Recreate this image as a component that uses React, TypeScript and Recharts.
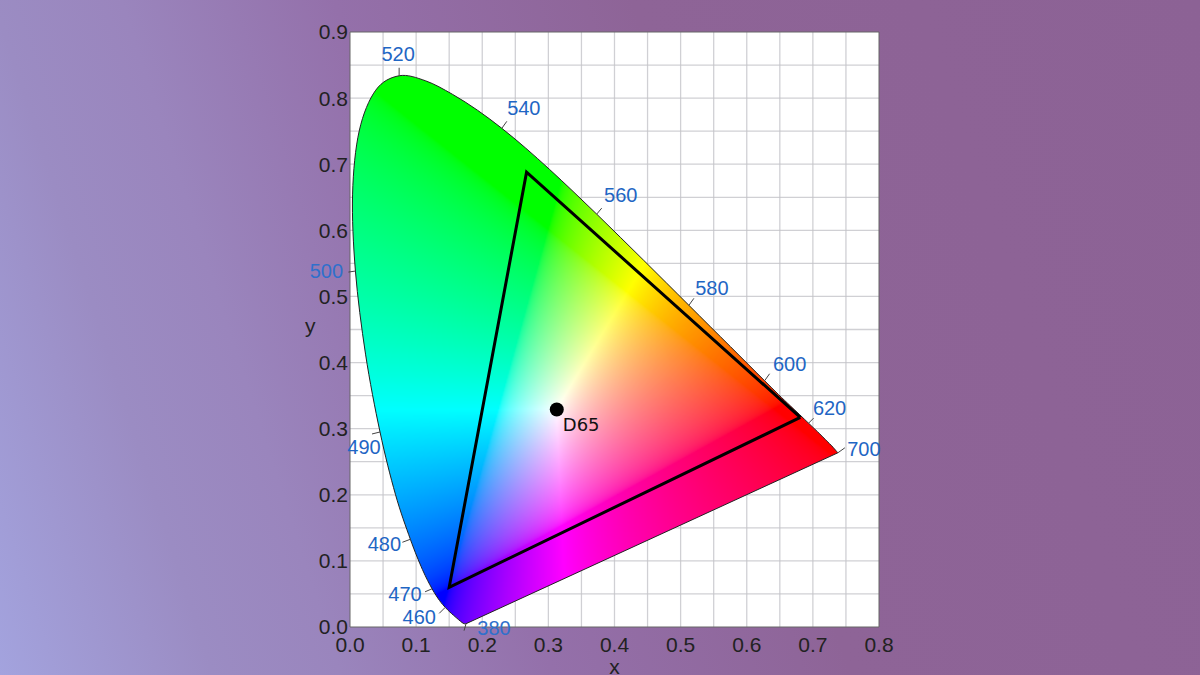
import { useMemo } from 'react';
import {
  ComposedChart, Scatter, XAxis, YAxis, CartesianGrid, ReferenceArea, Label,
} from 'recharts';

// spectral locus, wavelength in nm with its chromaticity
const LOCUS_NM = [380, 400, 420, 430, 440, 450, 455, 460, 465, 470, 475, 480, 485, 490, 495, 500, 505, 510, 515, 520, 525, 530, 535, 540, 545, 550, 555, 560, 565, 570, 575, 580, 585, 590, 595, 600, 605, 610, 620, 630, 640, 650, 680, 700];
const LOCUS_X = [0.1755, 0.1745, 0.1722, 0.1693, 0.1644, 0.1566, 0.151, 0.144, 0.1355, 0.1241, 0.1096, 0.0913, 0.0687, 0.0454, 0.0235, 0.0082, 0.0039, 0.0139, 0.0389, 0.0743, 0.1142, 0.1547, 0.1929, 0.2296, 0.2658, 0.3016, 0.3373, 0.3731, 0.4087, 0.4441, 0.4788, 0.5125, 0.5448, 0.5752, 0.6029, 0.627, 0.6482, 0.6665, 0.6935, 0.7105, 0.7215, 0.7285, 0.736, 0.7378];
const LOCUS_Y = [0.005, 0.0048, 0.0051, 0.0069, 0.0109, 0.0177, 0.0227, 0.0297, 0.0399, 0.0578, 0.0868, 0.1327, 0.2007, 0.295, 0.4127, 0.5384, 0.6548, 0.7502, 0.812, 0.8338, 0.8262, 0.8059, 0.7816, 0.7543, 0.7243, 0.6923, 0.6589, 0.6245, 0.5896, 0.5547, 0.5202, 0.4866, 0.4544, 0.4242, 0.3965, 0.3725, 0.3514, 0.334, 0.3083, 0.292, 0.2809, 0.274, 0.2655, 0.2635];

const LABELLED_NM = [380, 460, 470, 480, 490, 500, 520, 540, 560, 580, 600, 620, 700];

const GAMUT_X = [0.681, 0.267, 0.15];
const GAMUT_Y = [0.317, 0.688, 0.06];

const WHITE_POINT = [{ x: 0.3127, y: 0.329, name: 'D65' }];

const X_TICKS = [0, 0.1, 0.2, 0.3, 0.4, 0.5, 0.6, 0.7, 0.8];
const Y_TICKS = [0, 0.1, 0.2, 0.3, 0.4, 0.5, 0.6, 0.7, 0.8, 0.9];
const X_GRID = [0.05, 0.1, 0.15, 0.2, 0.25, 0.3, 0.35, 0.4, 0.45, 0.5, 0.55, 0.6, 0.65, 0.7, 0.75];
const Y_GRID = [0.05, 0.1, 0.15, 0.2, 0.25, 0.3, 0.35, 0.4, 0.45, 0.5, 0.55, 0.6, 0.65, 0.7, 0.75, 0.8, 0.85];

// tick end and text centre relative to the locus point, in px
const LABEL_STYLE: Record<number, { tx: number; ty: number; lx: number; ly: number; color?: string }> = {
  380: { tx: -2, ty: 7, lx: 28, ly: 4, color: '#2f70cc' },
  460: { tx: -6, ty: 6, lx: -26, ly: 10 },
  470: { tx: -7, ty: 3, lx: -27, ly: 5 },
  480: { tx: -8, ty: 3, lx: -26, ly: 5 },
  490: { tx: -8, ty: 2, lx: -16, ly: 15 },
  500: { tx: -7, ty: 1, lx: -29, ly: 0, color: '#2f70cc' },
  520: { tx: 0, ty: -8, lx: -1, ly: -22 },
  540: { tx: 5, ty: -7, lx: 22, ly: -20 },
  560: { tx: 5, ty: -6, lx: 24, ly: -19 },
  580: { tx: 5, ty: -7, lx: 23, ly: -17 },
  600: { tx: 5, ty: -7, lx: 25, ly: -17 },
  620: { tx: 5, ty: -5, lx: 21, ly: -15 },
  700: { tx: 7, ty: -5, lx: 26, ly: -4 },
};

const TICK_FONT = '"Liberation Sans", Arial, sans-serif';
const DEJAVU = '"DejaVu Sans", sans-serif';
const LABEL_BLUE = '#1f66c4';

const locusRows = LOCUS_X.map((x, i) => ({ x, y: LOCUS_Y[i] }));
const gamutLoop = [...GAMUT_X, GAMUT_X[0]].map((x, i) => ({ x, y: [...GAMUT_Y, GAMUT_Y[0]][i] }));
const wavelengthRows = LABELLED_NM.map((nm) => {
  const i = LOCUS_NM.indexOf(nm);
  return { x: LOCUS_X[i], y: LOCUS_Y[i], nm };
});

const gamma = (v: number) => Math.pow(v, 1 / 2);

// xy to clipped, max-normalised RGB, painted into a texture that fills the locus outline
function chromaticityTexture() {
  const w = 400;
  const h = 460;
  const canvas = document.createElement('canvas');
  canvas.width = w;
  canvas.height = h;
  const ctx = canvas.getContext('2d')!;
  const img = ctx.createImageData(w, h);
  const x0 = Math.min(...LOCUS_X);
  const x1 = Math.max(...LOCUS_X);
  const y0 = Math.min(...LOCUS_Y);
  const y1 = Math.max(...LOCUS_Y);
  for (let row = 0; row < h; row++) {
    for (let col = 0; col < w; col++) {
      const x = x0 + ((col + 0.5) / w) * (x1 - x0);
      const y = y1 - ((row + 0.5) / h) * (y1 - y0);
      const X = x / y;
      const Z = (1 - x - y) / y;
      const r = Math.max(0, 3.2406 * X - 1.5372 - 0.4986 * Z);
      const g = Math.max(0, -0.9689 * X + 1.8758 + 0.0415 * Z);
      const b = Math.max(0, 0.0557 * X - 0.204 + 1.057 * Z);
      const m = Math.max(r, g, b) || 1;
      const p = (row * w + col) * 4;
      img.data[p] = 255 * gamma(r / m);
      img.data[p + 1] = 255 * gamma(g / m);
      img.data[p + 2] = 255 * gamma(b / m);
      img.data[p + 3] = 255;
    }
  }
  ctx.putImageData(img, 0, 0);
  return canvas.toDataURL('image/png');
}

// smooth path through the locus points, closed by the straight purple line
function LocusOutline({ points }: any) {
  const pts = points as { x: number; y: number }[];
  let d = `M${pts[0].x},${pts[0].y}`;
  for (let i = 0; i < pts.length - 1; i++) {
    const a = pts[Math.max(i - 1, 0)];
    const b = pts[i];
    const c = pts[i + 1];
    const e = pts[Math.min(i + 2, pts.length - 1)];
    d += `C${b.x + (c.x - a.x) / 6},${b.y + (c.y - a.y) / 6} ${c.x - (e.x - b.x) / 6},${c.y - (e.y - b.y) / 6} ${c.x},${c.y}`;
  }
  return <path d={`${d}Z`} fill="url(#chroma)" stroke="#222" strokeWidth={1} strokeLinejoin="round" />;
}

function WavelengthMark({ cx, cy, payload }: any) {
  const s = LABEL_STYLE[payload.nm];
  return (
    <g>
      <line x1={cx} y1={cy} x2={cx + s.tx} y2={cy + s.ty} stroke="#444" strokeWidth={1} />
      <text
        x={cx + s.lx}
        y={cy + s.ly}
        textAnchor="middle"
        dominantBaseline="central"
        fontFamily={TICK_FONT}
        fontSize={20}
        fill={s.color || LABEL_BLUE}
      >
        {payload.nm}
      </text>
    </g>
  );
}

function WhitePointMark({ cx, cy, payload }: any) {
  return (
    <g>
      <circle cx={cx} cy={cy} r={7} fill="#000" />
      <text x={cx + 6} y={cy + 22} fontFamily={DEJAVU} fontSize={18} fill="#111">
        {payload.name}
      </text>
    </g>
  );
}

export default function App() {
  const texture = useMemo(chromaticityTexture, []);
  const tick = { fontFamily: TICK_FONT, fontSize: 21, fill: '#222' };

  return (
    <div
      style={{
        position: 'absolute',
        left: 0,
        top: 0,
        width: 1200,
        height: 675,
        overflow: 'hidden',
        background: 'linear-gradient(72deg, #a3a3de 0%, #9b8cc3 15%, #9a85bd 24%, #9470aa 39%, #8e6497 60%, #8c6295 100%)',
      }}
    >
      <ComposedChart width={1200} height={675} margin={{ left: 310, right: 321, top: 32, bottom: 18 }}>
        <defs>
          <pattern id="chroma" patternUnits="objectBoundingBox" patternContentUnits="objectBoundingBox" x={0} y={0} width={1} height={1}>
            <image href={texture} x={0} y={0} width={1} height={1} preserveAspectRatio="none" />
          </pattern>
        </defs>
        <CartesianGrid
          fill="#fff"
          stroke="#dcdce0"
          strokeWidth={1.3}
          verticalValues={X_GRID}
          horizontalValues={Y_GRID}
        />
        <XAxis
          type="number"
          dataKey="x"
          domain={[0, 0.8]}
          ticks={X_TICKS}
          interval={0}
          tickFormatter={(v: number) => v.toFixed(1)}
          tick={tick}
          tickLine={false}
          axisLine={false}
          height={30}
          tickSize={0}
          tickMargin={10}
        >
          <Label value="x" position="insideBottom" offset={-17} style={{ fontFamily: TICK_FONT, fontSize: 21, fill: '#222' }} />
        </XAxis>
        <YAxis
          type="number"
          dataKey="y"
          domain={[0, 0.9]}
          ticks={Y_TICKS}
          interval={0}
          tickFormatter={(v: number) => v.toFixed(1)}
          tick={tick}
          tickLine={false}
          axisLine={false}
          width={40}
          tickSize={0}
          tickMargin={2}
        >
          <Label value="y" position="insideLeft" offset={-5} dy={-4} style={{ fontFamily: TICK_FONT, fontSize: 21, fill: '#222' }} />
        </YAxis>
        <Scatter
          data={locusRows}
          isAnimationActive={false}
          shape={() => null}
          line={(props: any) => <LocusOutline key="locus" {...props} />}
        />
        {/* faint grid shows through the colour field */}
        <CartesianGrid stroke="#000" strokeOpacity={0.05} strokeWidth={1.3} verticalValues={X_GRID} horizontalValues={Y_GRID} />
        <ReferenceArea x1={0} x2={0.8} y1={0} y2={0.9} fill="none" stroke="#666" strokeWidth={1} />
        <Scatter
          data={gamutLoop}
          isAnimationActive={false}
          shape={() => null}
          line={{ fill: 'none', stroke: '#000', strokeWidth: 3 }}
        />
        <Scatter data={wavelengthRows} isAnimationActive={false} shape={<WavelengthMark />} />
        <Scatter data={WHITE_POINT} isAnimationActive={false} shape={<WhitePointMark />} />
      </ComposedChart>
    </div>
  );
}
